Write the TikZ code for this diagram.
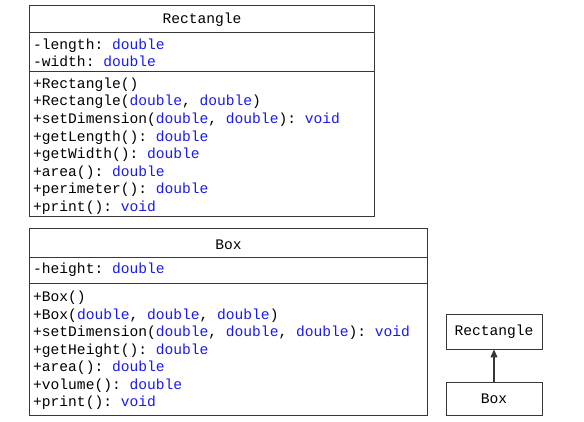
\documentclass[tikz,border=0pt]{standalone}
\usepackage{fontspec}
\setmonofont{Liberation Mono}
\usetikzlibrary{arrows.meta}
\definecolor{tyblue}{RGB}{25,25,235}
\definecolor{lineclr}{RGB}{55,55,55}
\newcommand{\ty}[1]{\textcolor{tyblue}{#1}}
\tikzset{
  boxline/.style={draw=lineclr, line width=0.9pt},
  mem/.style={anchor=base west, inner sep=0pt},
  ttl/.style={anchor=base, inner sep=0pt},
  smallbox/.style={draw=lineclr, line width=0.9pt, minimum width=96pt, inner sep=0pt},
  inh/.style={draw=lineclr, line width=1.1pt, -{Triangle[length=8pt,width=7pt]}}
}
\begin{document}
\begin{tikzpicture}[x=1pt,y=-1pt,font=\ttfamily\fontsize{14.6}{17.6}\selectfont]
\useasboundingbox (0,0) rectangle (584,422);
% Rectangle class
\draw[boxline] (29.5,5.5) rectangle (374.5,216.5);
\draw[boxline] (29.5,32.5) -- (374.5,32.5);
\draw[boxline] (29.5,71.5) -- (374.5,71.5);
\node[ttl] (rt) at (202,23.5) {Rectangle};
\node[mem] (ra1) at (33,49.3) {-length: \ty{double}};
\node[mem] (ra2) at (33,66.8) {-width: \ty{double}};
\node[mem] (rm1) at (33,88.3) {+Rectangle()};
\node[mem] (rm2) at (33,105.9) {+Rectangle(\ty{double}, \ty{double})};
\node[mem] (rm3) at (33,123.5) {+setDimension(\ty{double}, \ty{double}): \ty{void}};
\node[mem] (rm4) at (33,141.1) {+getLength(): \ty{double}};
\node[mem] (rm5) at (33,158.7) {+getWidth(): \ty{double}};
\node[mem] (rm6) at (33,176.3) {+area(): \ty{double}};
\node[mem] (rm7) at (33,193.9) {+perimeter(): \ty{double}};
\node[mem] (rm8) at (33,211.5) {+print(): \ty{void}};
% Box class
\draw[boxline] (29.5,228.5) rectangle (427.5,415.5);
\draw[boxline] (29.5,257.5) -- (427.5,257.5);
\draw[boxline] (29.5,283.5) -- (427.5,283.5);
\node[ttl] (bt) at (228.5,249.2) {Box};
\node[mem] (ba1) at (33,273.3) {-height: \ty{double}};
\node[mem] (bm1) at (33,301.8) {+Box()};
\node[mem] (bm2) at (33,319.2) {+Box(\ty{double}, \ty{double}, \ty{double})};
\node[mem] (bm3) at (33,336.7) {+setDimension(\ty{double}, \ty{double}, \ty{double}): \ty{void}};
\node[mem] (bm4) at (33,354.1) {+getHeight(): \ty{double}};
\node[mem] (bm5) at (33,371.6) {+area(): \ty{double}};
\node[mem] (bm6) at (33,389.0) {+volume(): \ty{double}};
\node[mem] (bm7) at (33,406.4) {+print(): \ty{void}};
% small diagram
\node[smallbox, minimum height=35pt] (sr) at (494,331.5) {Rectangle};
\node[smallbox, minimum height=33pt] (sb) at (494,398.5) {Box};
\draw[inh] (sb) -- (sr);
\end{tikzpicture}
\end{document}
